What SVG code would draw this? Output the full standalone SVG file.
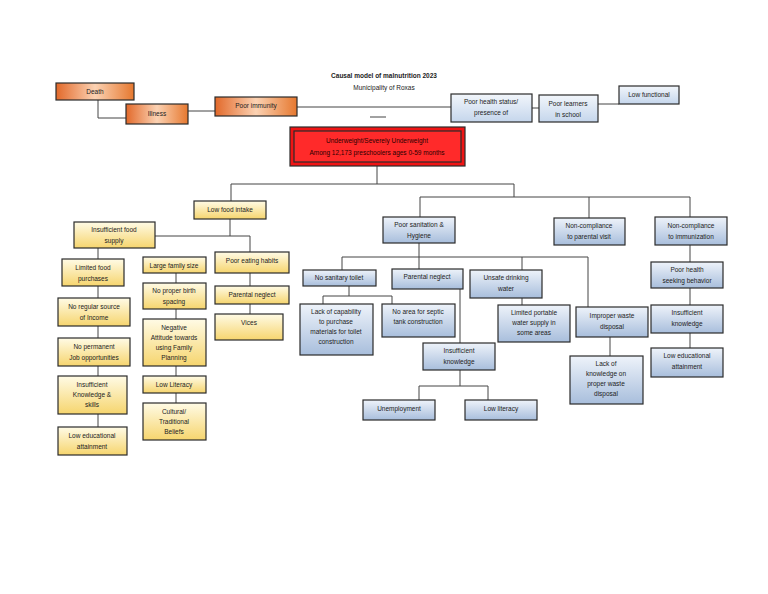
<svg xmlns="http://www.w3.org/2000/svg" width="768" height="594" viewBox="0 0 768 594">
<defs>
<linearGradient id="gy" x1="0" y1="0" x2="0" y2="1"><stop offset="0" stop-color="#fffbe6"/><stop offset="1" stop-color="#f6d56e"/></linearGradient>
<linearGradient id="gb" x1="0" y1="0" x2="0" y2="1"><stop offset="0" stop-color="#eef3fa"/><stop offset="1" stop-color="#a8bedc"/></linearGradient>
<linearGradient id="go" x1="0" y1="0" x2="1" y2="0"><stop offset="0" stop-color="#e2692a"/><stop offset="0.5" stop-color="#fbd2b3"/><stop offset="1" stop-color="#e6782f"/></linearGradient>
<linearGradient id="gl" x1="0" y1="0" x2="0" y2="1"><stop offset="0" stop-color="#f2f6fb"/><stop offset="1" stop-color="#c5d6ec"/></linearGradient>
</defs>
<style>
rect{stroke:#2b2b2b;stroke-width:1.2}
.y{fill:url(#gy)}.b{fill:url(#gb)}.o{fill:url(#go)}.l{fill:url(#gl)}
text{font-family:"Liberation Sans",Arial,sans-serif;font-size:6.5px;fill:#222;text-anchor:middle}
#conn path{stroke:#444;stroke-width:1;fill:none}
</style>
<rect x="0" y="0" width="768" height="594" style="fill:#fff;stroke:none"/>
<g id="title"><text x="384" y="78" font-weight="bold">Causal model of malnutrition 2023</text><text x="384" y="90">Municipality of Roxas</text></g>
<g id="conn">
<path d="M98 100V118H126M188 111H215M297 107H451M532 108H539M598 104H619M370 117H386"/>
<path d="M377 166V184M231 184H514M231 184V201M514 184V197M420 197H690M420 197V217M589 197V218M690 197V217"/>
<path d="M230 219V236M155 236H250V252M98 248V427M176 273V403M250 273V314"/>
<path d="M419 243V257M342 257H588M342 257V270M419 257V269M522 257V270M588 257V307M349 286V296M323 296H392M323 296V304M392 296V304M460 289V343M460 370V386M419 386H488M419 386V400M488 386V400M522 298V305M610 337V356M690 245V348"/>
</g>
<g id="death"><rect class="o" x="56" y="83" width="78" height="17"/><text x="95" y="94">Death</text></g>
<g id="illness"><rect class="o" x="126" y="104" width="62" height="20"/><text x="157" y="116">Illness</text></g>
<g id="poorimm"><rect class="o" x="215" y="97" width="82" height="19"/><text x="256" y="108">Poor immunity</text></g>
<g id="phs"><rect class="l" x="451" y="94" width="81" height="28"/><text x="491" y="104">Poor health status/</text><text x="491" y="115">presence of</text></g>
<g id="plearn"><rect class="l" x="539" y="95" width="59" height="27"/><text x="568" y="106">Poor learners</text><text x="568" y="117">in school</text></g>
<g id="lowfn"><rect class="l" x="619" y="86" width="60" height="18"/><text x="649" y="97">Low functional</text></g>
<g id="main"><rect x="290" y="127" width="175" height="39" fill="#f01414"/><rect x="294" y="131" width="167" height="31" fill="#ff2a2a" stroke="#ff8a8a" stroke-width="0.8"/><text x="377" y="143" style="fill:#2a0000">Underweight/Severely Underweight</text><text x="377" y="155" style="fill:#2a0000">Among 12,173 preschoolers ages 0-59 months</text></g>
<g id="lfi"><rect class="y" x="194" y="201" width="72" height="18"/><text x="230" y="212">Low food intake</text></g>
<g id="ifs"><rect class="y" x="74" y="222" width="81" height="26"/><text x="114" y="232">Insufficient food</text><text x="114" y="243">supply</text></g>
<g id="lfp"><rect class="y" x="62" y="259" width="62" height="27"/><text x="93" y="270">Limited food</text><text x="93" y="281">purchases</text></g>
<g id="nrs"><rect class="y" x="58" y="298" width="72" height="28"/><text x="94" y="309">No regular source</text><text x="94" y="320">of Income</text></g>
<g id="npj"><rect class="y" x="58" y="338" width="72" height="28"/><text x="94" y="349">No permanent</text><text x="94" y="360">Job opportunities</text></g>
<g id="iks"><rect class="y" x="58" y="376" width="69" height="38"/><text x="92" y="387">Insufficient</text><text x="92" y="397">Knowledge &amp;</text><text x="92" y="407">skills</text></g>
<g id="lea1"><rect class="y" x="58" y="427" width="69" height="28"/><text x="92" y="438">Low educational</text><text x="92" y="449">attainment</text></g>
<g id="lfs"><rect class="y" x="143" y="257" width="63" height="16"/><text x="174" y="268">Large family size</text></g>
<g id="npb"><rect class="y" x="143" y="283" width="63" height="26"/><text x="174" y="293">No proper birth</text><text x="174" y="304">spacing</text></g>
<g id="neg"><rect class="y" x="143" y="319" width="63" height="47"/><text x="174" y="330">Negative</text><text x="174" y="340">Attitude towards</text><text x="174" y="350">using Family</text><text x="174" y="360">Planning</text></g>
<g id="ll1"><rect class="y" x="143" y="376" width="63" height="17"/><text x="174" y="387">Low Literacy</text></g>
<g id="cul"><rect class="y" x="143" y="403" width="63" height="37"/><text x="174" y="414">Cultural/</text><text x="174" y="424">Traditional</text><text x="174" y="434">Beliefs</text></g>
<g id="peh"><rect class="y" x="215" y="252" width="74" height="21"/><text x="252" y="263">Poor eating habits</text></g>
<g id="pn1"><rect class="y" x="215" y="286" width="74" height="18"/><text x="252" y="297">Parental neglect</text></g>
<g id="vices"><rect class="y" x="215" y="314" width="68" height="26"/><text x="249" y="325">Vices</text></g>
<g id="psh"><rect class="b" x="383" y="217" width="72" height="26"/><text x="419" y="227">Poor sanitation &amp;</text><text x="419" y="238">Hygiene</text></g>
<g id="ncpv"><rect class="b" x="554" y="218" width="71" height="27"/><text x="589" y="228">Non-compliance</text><text x="589" y="239">to parental visit</text></g>
<g id="ncim"><rect class="b" x="655" y="217" width="72" height="28"/><text x="691" y="228">Non-compliance</text><text x="691" y="239">to immunization</text></g>
<g id="nst"><rect class="b" x="303" y="270" width="73" height="16"/><text x="339" y="280">No sanitary toilet</text></g>
<g id="pn2"><rect class="b" x="392" y="269" width="71" height="20"/><text x="427" y="279">Parental neglect</text></g>
<g id="udw"><rect class="b" x="470" y="270" width="72" height="28"/><text x="506" y="280">Unsafe drinking</text><text x="506" y="291">water</text></g>
<g id="lcp"><rect class="b" x="300" y="304" width="73" height="51"/><text x="336" y="314">Lack of capability</text><text x="336" y="324">to purchase</text><text x="336" y="334">materials for toilet</text><text x="336" y="344">construction</text></g>
<g id="nas"><rect class="b" x="382" y="304" width="73" height="33"/><text x="418" y="314">No area for septic</text><text x="418" y="324">tank construction</text></g>
<g id="ik2"><rect class="b" x="423" y="343" width="72" height="27"/><text x="459" y="353">Insufficient</text><text x="459" y="364">knowledge</text></g>
<g id="unemp"><rect class="b" x="363" y="400" width="72" height="20"/><text x="399" y="411">Unemployment</text></g>
<g id="ll2"><rect class="b" x="465" y="400" width="72" height="20"/><text x="501" y="411">Low literacy</text></g>
<g id="lpw"><rect class="b" x="498" y="305" width="72" height="37"/><text x="534" y="315">Limited portable</text><text x="534" y="325">water supply in</text><text x="534" y="335">some areas</text></g>
<g id="iwd"><rect class="b" x="576" y="307" width="72" height="30"/><text x="612" y="318">Improper waste</text><text x="612" y="329">disposal</text></g>
<g id="lkw"><rect class="b" x="570" y="356" width="73" height="48"/><text x="606" y="366">Lack of</text><text x="606" y="376">knowledge on</text><text x="606" y="386">proper waste</text><text x="606" y="396">disposal</text></g>
<g id="phsb"><rect class="b" x="651" y="262" width="72" height="26"/><text x="687" y="272">Poor health</text><text x="687" y="283">seeking behavior</text></g>
<g id="ik3"><rect class="b" x="651" y="305" width="72" height="28"/><text x="687" y="315">Insufficient</text><text x="687" y="326">knowledge</text></g>
<g id="lea2"><rect class="b" x="651" y="348" width="72" height="29"/><text x="687" y="358">Low educational</text><text x="687" y="369">attainment</text></g>
</svg>
